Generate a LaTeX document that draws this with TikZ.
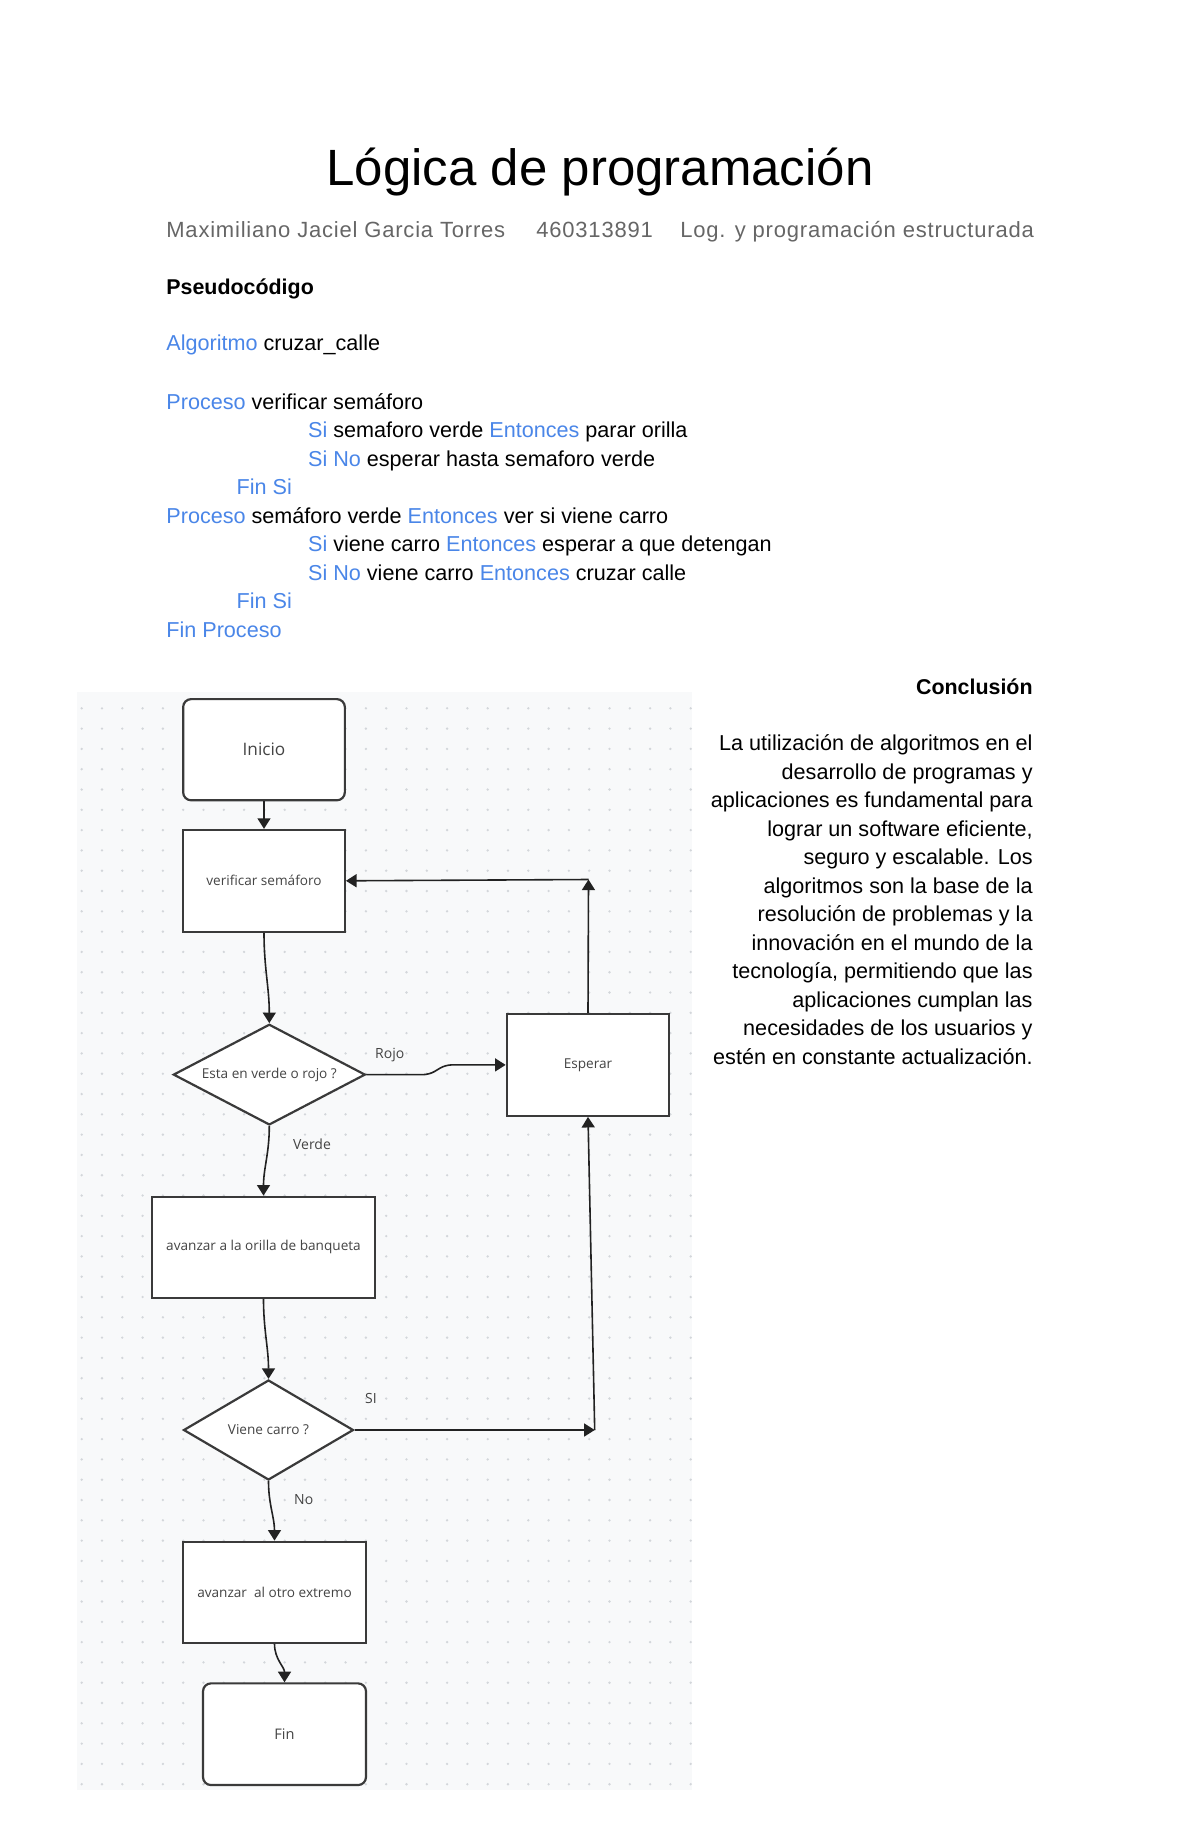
\documentclass[tikz,border=0pt]{standalone}
\usepackage{fontspec}
\setmainfont{Liberation Sans}
\newfontfamily\chartfont{Open Sans}
\newfontfamily\spacedfont[LetterSpace=3.6]{Liberation Sans}
\usetikzlibrary{shapes.geometric,arrows.meta}

\definecolor{kwblue}{HTML}{4A86E8}
\definecolor{subgray}{HTML}{666666}
\definecolor{bggray}{HTML}{F8F9FA}
\definecolor{dotgray}{HTML}{D3D6DA}
\definecolor{boxline}{HTML}{3A3A3A}
\definecolor{charttext}{HTML}{444444}
\definecolor{flowline}{HTML}{222222}

\newcommand{\kw}[1]{\textcolor{kwblue}{#1}}

\begin{document}
\begin{tikzpicture}[x=0.5pt,y=-0.5pt,>={Triangle[length=5.3pt,width=6.5pt]},
  every node/.style={inner sep=0pt},
  code/.style={anchor=base west,font=\fontsize{10.8}{13}\selectfont},
  concl/.style={anchor=base east,font=\fontsize{10.8}{13}\selectfont},
  subline/.style={anchor=base west,text=subgray,font=\spacedfont\fontsize{11}{14}\selectfont},
  block/.style={draw=boxline,line width=1.1pt,fill=white,text=charttext,
    font=\chartfont\fontsize{6.8}{8}\selectfont},
  roundblock/.style={block,rounded corners=4pt},
  decision/.style={block,diamond},
  flow/.style={->,line width=0.8pt,draw=flowline},
  tag/.style={text=charttext,font=\chartfont\fontsize{7}{8}\selectfont}]

\fill[white] (0,0) rectangle (1200,1835);
\useasboundingbox (0,0) rectangle (1200,1835);

% heading
\node[anchor=base,font=\fontsize{25.5}{30}\selectfont] (title) at (600,186) {Lógica de programación};
\node[subline] (alumno) at (166,237.3) {Maximiliano Jaciel Garcia Torres};
\node[subline] (matricula) at (536,237.3) {460313891};
\node[subline] (materia) at (680,237.3) {Log. y programación estructurada};

% pseudocode
\node[code,font=\bfseries\fontsize{10.7}{13}\selectfont] (pseudo) at (166,294) {Pseudocódigo};
\node[code] (c1) at (166,350.5) {\kw{Algoritmo} cruzar\_calle};
\node[code] (c2) at (166,409) {\kw{Proceso} verificar semáforo};
\node[code] (c3) at (307.7,437.5) {\kw{Si} semaforo verde \kw{Entonces} parar orilla};
\node[code] (c4) at (307.7,466) {\kw{Si No} esperar hasta semaforo verde};
\node[code] (c5) at (236.3,494.5) {\kw{Fin Si}};
\node[code] (c6) at (166,523) {\kw{Proceso} semáforo verde \kw{Entonces} ver si viene carro};
\node[code] (c7) at (307.7,551.5) {\kw{Si} viene carro \kw{Entonces} esperar a que detengan};
\node[code] (c8) at (307.7,580) {\kw{Si No} viene carro \kw{Entonces} cruzar calle};
\node[code] (c9) at (236.3,608.5) {\kw{Fin Si}};
\node[code] (c10) at (166,637) {\kw{Fin Proceso}};

% conclusion
\node[concl,font=\bfseries\fontsize{10.7}{13}\selectfont] (conclusion) at (1033,694) {Conclusión};
\foreach \txt [count=\i] in {La utilización de algoritmos en el,
    desarrollo de programas y,
    aplicaciones es fundamental para,
    {lograr un software eficiente,},
    seguro y escalable. Los,
    algoritmos son la base de la,
    resolución de problemas y la,
    innovación en el mundo de la,
    {tecnología, permitiendo que las},
    aplicaciones cumplan las,
    necesidades de los usuarios y,
    estén en constante actualización.}
  \node[concl] (p\i) at (1033,{750.5+28.5*(\i-1)}) {\txt};

% flowchart canvas
\fill[bggray] (77.4,691.7) rectangle (691.7,1790);
\foreach \i in {0,...,30}
  \foreach \j in {0,...,53}
    \fill[dotgray] ({81.7+20.3*\i},{708.3+20.3*\j}) circle (0.65pt);

\node[roundblock,minimum width=80.85pt,minimum height=50.6pt,
  font=\chartfont\fontsize{8.6}{10}\selectfont] (inicio) at (264,749.7) {Inicio};
\node[block,minimum width=80.85pt,minimum height=50.85pt] (verif) at (264,880.8) {verificar semáforo};
\node[decision,aspect=1.907,minimum width=96pt,minimum height=50.35pt] (color) at (269.3,1074.6) {Esta en verde o rojo ?};
\node[block,minimum width=81.25pt,minimum height=50.85pt] (esperar) at (588,1064.9) {Esperar};
\node[block,minimum width=111.5pt,minimum height=50.5pt] (orilla) at (263.5,1247.2) {avanzar a la orilla de banqueta};
\node[decision,aspect=1.7,minimum width=85pt,minimum height=50pt] (carro) at (268.5,1430) {Viene carro ?};
\node[block,minimum width=91.4pt,minimum height=50.5pt] (extremo) at (274.5,1592.2) {avanzar\ \ al otro extremo};
\node[roundblock,minimum width=81.5pt,minimum height=50.85pt,
  font=\chartfont\fontsize{7.3}{9}\selectfont] (fin) at (284.5,1734.2) {Fin};

\coordinate (back) at (588.5,879.5);
\coordinate (si) at (594.7,1430);

\draw[flow] (inicio) -- (verif);
\draw[flow] (verif.south) to[out=-90,in=90] (color.north);
\draw[flow,rounded corners=3pt] (color.east) -- ++(63,0) -- ++(16,-9.7) -- (esperar.west);
\draw[flow] (esperar.north) -- (back);
\draw[flow] (back) -- (verif.east);
\draw[flow] (color.south) to[out=-90,in=90] (orilla.north);
\draw[flow] (orilla.south) to[out=-90,in=90] (carro.north);
\draw[flow] (carro.east) -- (si);
\draw[flow] (si) -- (esperar.south);
\draw[flow] (carro.south) to[out=-90,in=90] (extremo.north);
\draw[flow] (extremo.south) to[out=-90,in=90] (fin.north);

\node[tag,anchor=base] (rojo) at (389.7,1058.3) {Rojo};
\node[tag] (verde) at (312,1144.3) {Verde};
\node[tag] (sitag) at (370.9,1398.3) {SI};
\node[tag] (notag) at (303.7,1500) {No};
\end{tikzpicture}
\end{document}
